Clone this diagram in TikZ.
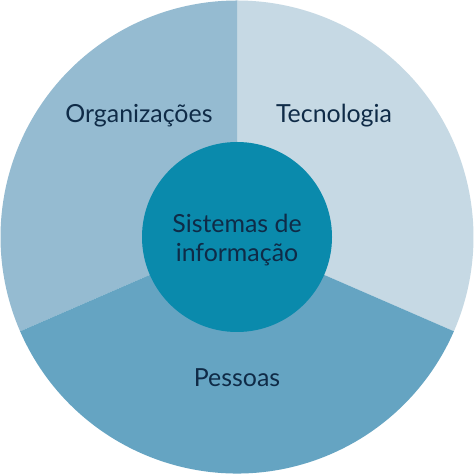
\documentclass[tikz,border=0pt]{standalone}
\usepackage{fontspec}
\setmainfont{Lato}
\definecolor{orgc}{HTML}{95BBD1}
\definecolor{tecc}{HTML}{C6D9E4}
\definecolor{pesc}{HTML}{65A4C2}
\definecolor{cenc}{HTML}{0A8AAC}
\definecolor{txtc}{HTML}{0F2B47}
\begin{document}
\begin{tikzpicture}[x=1bp,y=1bp,
  lbl/.style={text=txtc,font=\fontsize{25}{30}\selectfont,inner sep=0pt,anchor=base}]
\useasboundingbox[fill=white] (0,0) rectangle (474,474);
\coordinate (c) at (237,237);
\def\R{236.5}
\fill[tecc] (c) -- ++(-23.5:\R) arc[start angle=-23.5,end angle=90,radius=\R] -- cycle;
\fill[orgc] (c) -- ++(90:\R) arc[start angle=90,end angle=203.5,radius=\R] -- cycle;
\fill[pesc] (c) -- ++(203.5:\R) arc[start angle=203.5,end angle=336.5,radius=\R] -- cycle;
\node[circle,fill=cenc,minimum size=190bp,inner sep=0pt] (center) at (c) {};
\node[lbl] (org) at (139,351) {Organizações};
\node[lbl] (tec) at (334,351) {Tecnologia};
\node[lbl] (pes) at (237,87) {Pessoas};
\node[lbl] (sis1) at (237,241) {Sistemas de};
\node[lbl] (sis2) at (237,212) {informação};
\end{tikzpicture}
\end{document}
